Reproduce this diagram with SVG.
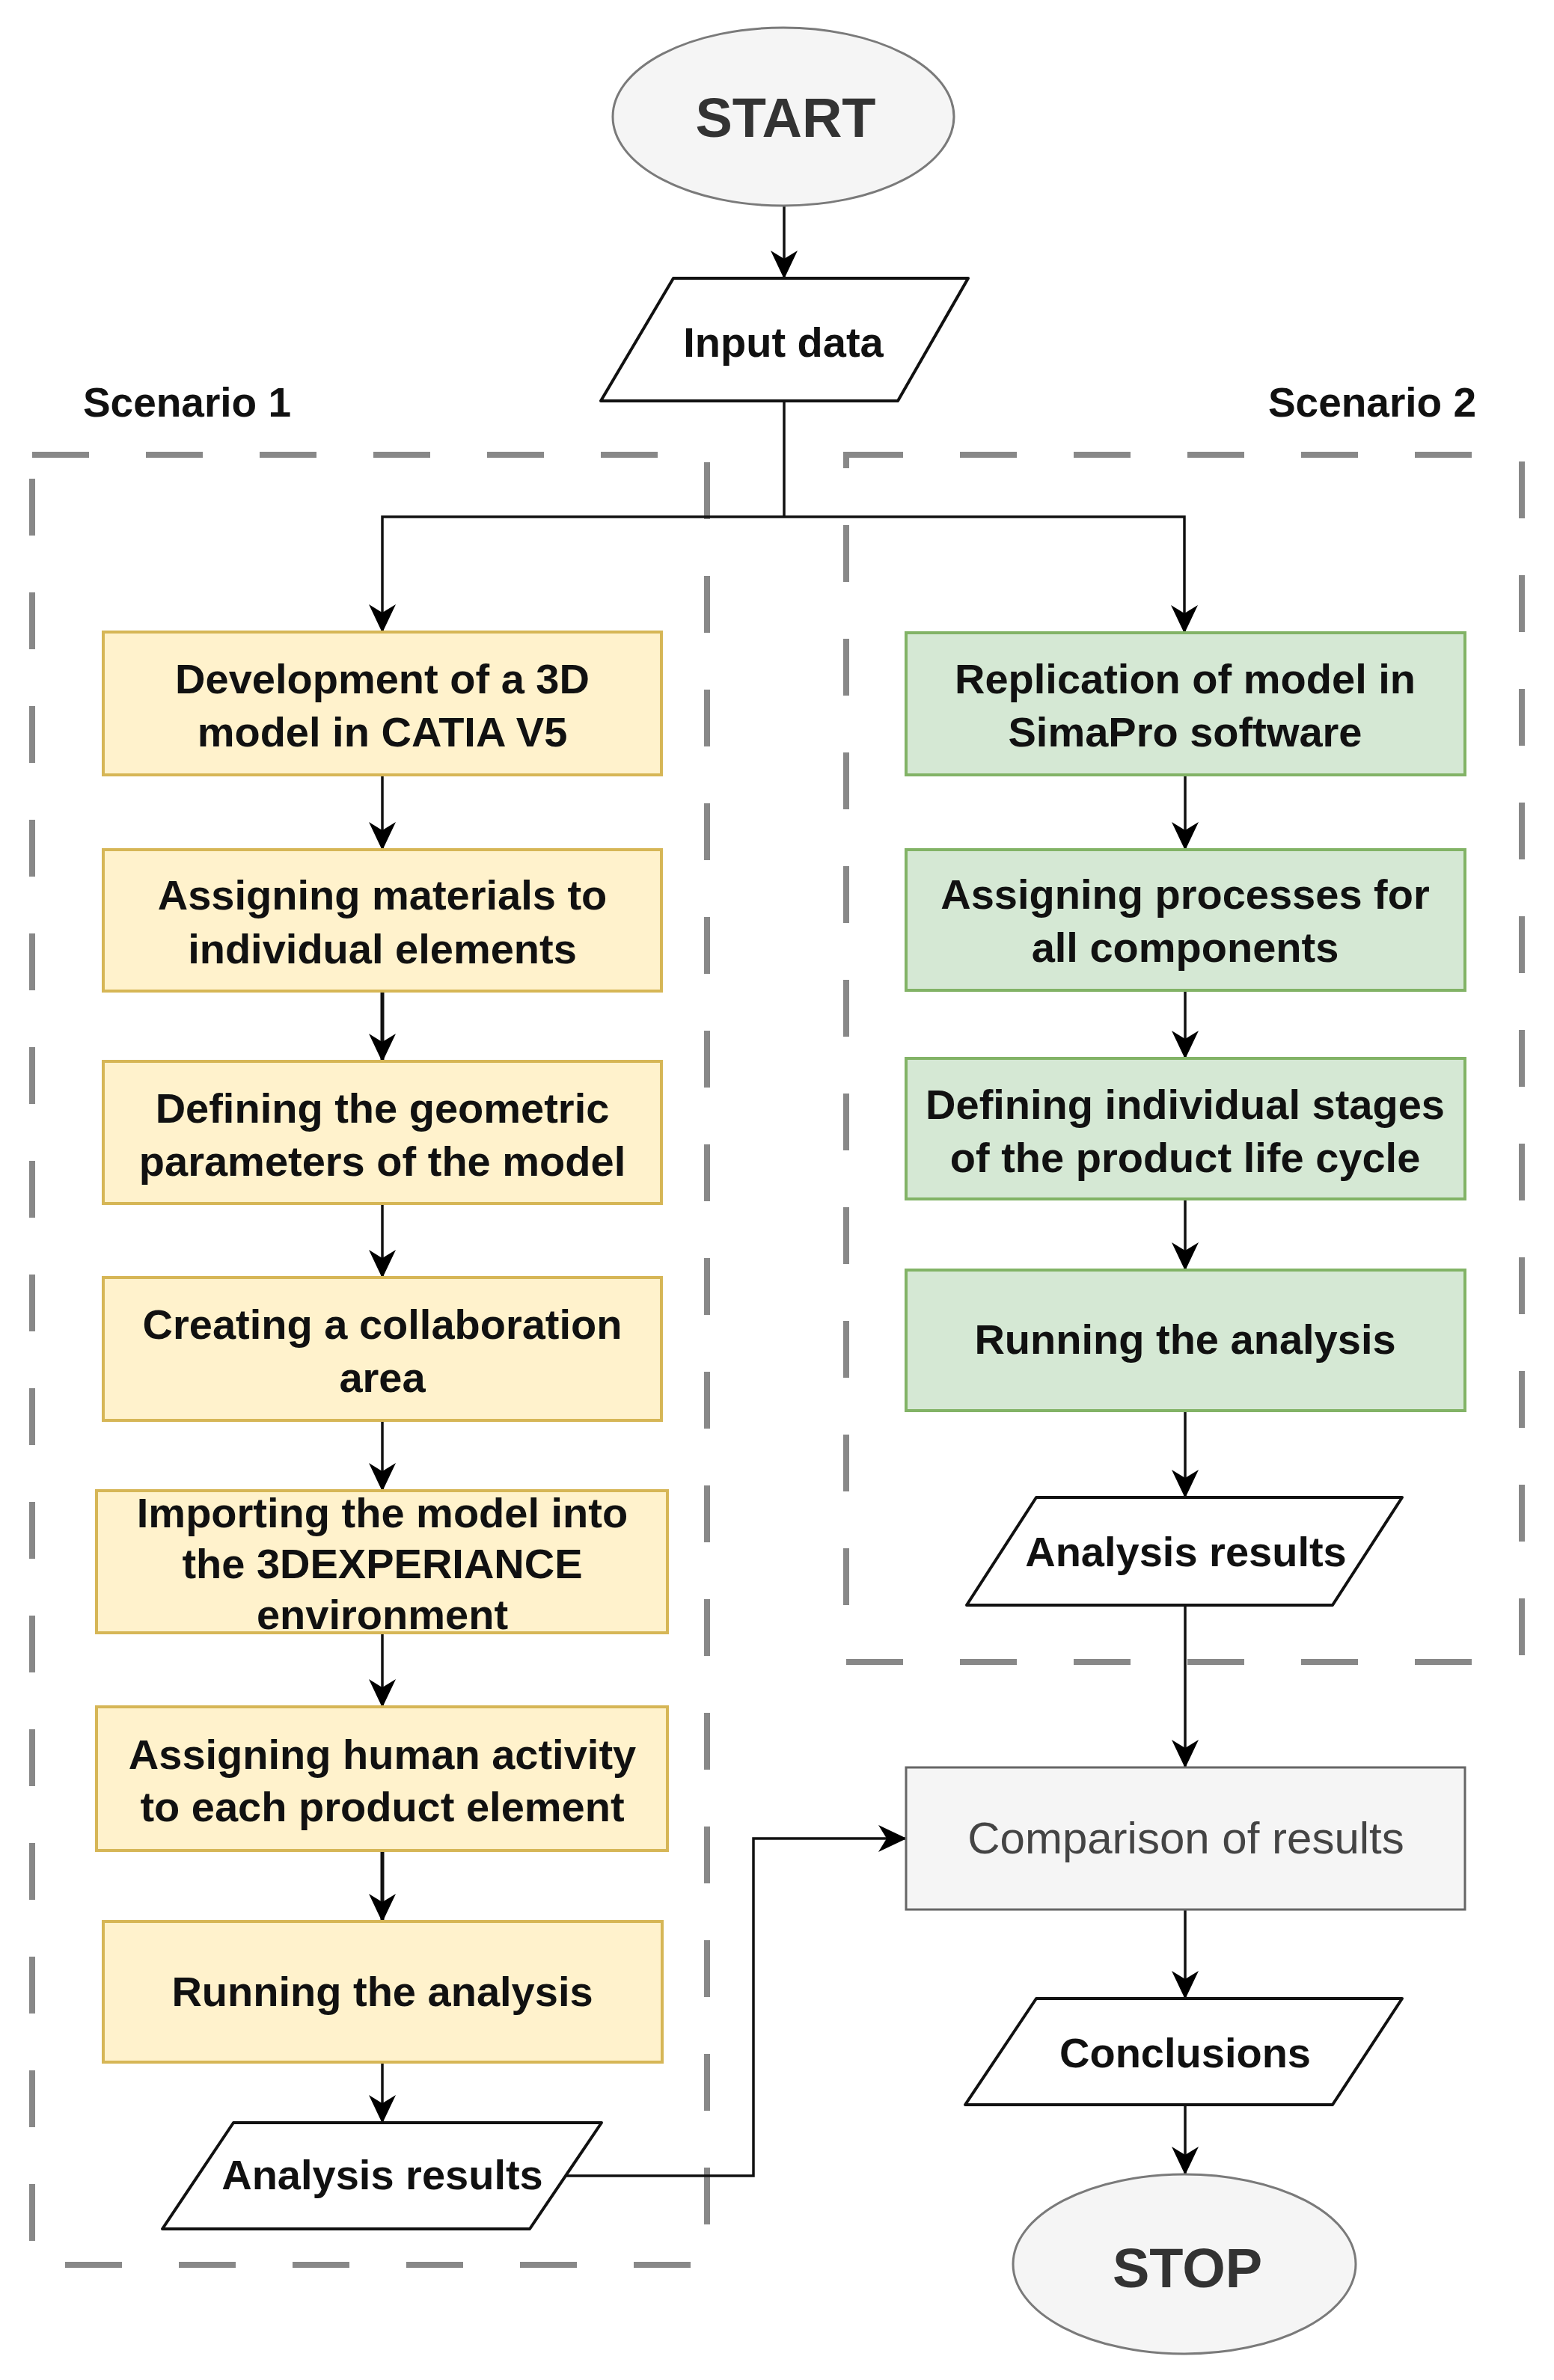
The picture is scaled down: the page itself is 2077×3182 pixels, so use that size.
<svg xmlns="http://www.w3.org/2000/svg" width="2077" height="3182" viewBox="0 0 2077 3182">
<defs>
<marker id="arr" markerUnits="userSpaceOnUse" markerWidth="38" markerHeight="36" viewBox="0 0 38 36" refX="37" refY="18" orient="auto">
<path d="M0,0 L38,18 L0,36 L11,18 Z" fill="#000"/>
</marker>
</defs>
<style>
text{font-family:"Liberation Sans",Arial,sans-serif;font-weight:bold;font-size:56px;fill:#111;text-anchor:middle}
.yel{fill:#fff2cc;stroke:#d6b656;stroke-width:4}
.grn{fill:#d5e8d4;stroke:#82b366;stroke-width:4}
.gry{fill:#f5f5f5;stroke:#666;stroke-width:3}
.term{fill:#f5f5f5;stroke:#7a7a7a;stroke-width:3}
.io{fill:#fff;stroke:#111;stroke-width:4;stroke-linejoin:round}
.zone{fill:none;stroke:#888;stroke-width:8;stroke-dasharray:76 76}
.lbl{font-size:55px}
.big{font-size:74px;fill:#333}
.cmp{font-weight:normal;font-size:60px;fill:#444}
.c{fill:none;stroke:#111;stroke-width:3.5;marker-end:url(#arr)}
.c2{fill:none;stroke:#111;stroke-width:3.5}
.thick{stroke-width:5}
</style>

<g id="zones">
<rect class="zone" x="43" y="608" width="902" height="2420"/>
<rect class="zone" x="1131" y="608" width="903" height="1614"/>
<text class="lbl" x="250" y="557">Scenario 1</text>
<text class="lbl" x="1834" y="557">Scenario 2</text>
</g>

<g id="connectors">
<path class="c" d="M1048,275 V372"/>
<path class="c2" d="M1048,536 V691"/>
<path class="c" d="M1048,691 H511 V845"/>
<path class="c" d="M1048,691 H1583 V846"/>
<path class="c" d="M511,1036 V1136"/>
<path class="c thick" d="M511,1325 V1419"/>
<path class="c" d="M511,1609 V1708"/>
<path class="c" d="M511,1899 V1993"/>
<path class="c" d="M511,2183 V2282"/>
<path class="c thick" d="M511,2474 V2569"/>
<path class="c" d="M511,2757 V2838"/>
<path class="c" d="M757,2909 H1007 V2458 H1211"/>
<path class="c" d="M1584,1036 V1136"/>
<path class="c" d="M1584,1324 V1415"/>
<path class="c" d="M1584,1603 V1698"/>
<path class="c" d="M1584,1886 V2002"/>
<path class="c" d="M1584,2146 V2363"/>
<path class="c" d="M1584,2553 V2672"/>
<path class="c" d="M1584,2814 V2907"/>
</g>

<g id="start">
<ellipse class="term" cx="1047" cy="156" rx="228" ry="119"/>
<text class="big" x="1050" y="183">START</text>
</g>

<g id="input">
<polygon class="io" points="900,372 1294,372 1200,536 803,536"/>
<text x="1047" y="477">Input data</text>
</g>

<g id="l1">
<rect class="yel" x="138" y="845" width="746" height="191"/>
<text x="511" y="927">Development of a 3D</text>
<text x="511" y="998">model in CATIA V5</text>
</g>
<g id="l2">
<rect class="yel" x="138" y="1136" width="746" height="189"/>
<text x="511" y="1216">Assigning materials to</text>
<text x="511" y="1288">individual elements</text>
</g>
<g id="l3">
<rect class="yel" x="138" y="1419" width="746" height="190"/>
<text x="511" y="1501">Defining the geometric</text>
<text x="511" y="1572">parameters of the model</text>
</g>
<g id="l4">
<rect class="yel" x="138" y="1708" width="746" height="191"/>
<text x="511" y="1790">Creating a collaboration</text>
<text x="511" y="1861">area</text>
</g>
<g id="l5">
<rect class="yel" x="129" y="1993" width="763" height="190"/>
<text x="511" y="2042">Importing the model into</text>
<text x="511" y="2110">the 3DEXPERIANCE</text>
<text x="511" y="2178">environment</text>
</g>
<g id="l6">
<rect class="yel" x="129" y="2282" width="763" height="192"/>
<text x="511" y="2365">Assigning human activity</text>
<text x="511" y="2435">to each product element</text>
</g>
<g id="l7">
<rect class="yel" x="138" y="2569" width="747" height="188"/>
<text x="511" y="2682">Running the analysis</text>
</g>
<g id="lres">
<polygon class="io" points="312,2838 804,2838 708,2980 217,2980"/>
<text x="511" y="2927">Analysis results</text>
</g>

<g id="r1">
<rect class="grn" x="1211" y="846" width="747" height="190"/>
<text x="1584" y="927">Replication of model in</text>
<text x="1584" y="998">SimaPro software</text>
</g>
<g id="r2">
<rect class="grn" x="1211" y="1136" width="747" height="188"/>
<text x="1584" y="1215">Assigning processes for</text>
<text x="1584" y="1286">all components</text>
</g>
<g id="r3">
<rect class="grn" x="1211" y="1415" width="747" height="188"/>
<text x="1584" y="1496">Defining individual stages</text>
<text x="1584" y="1567">of the product life cycle</text>
</g>
<g id="r4">
<rect class="grn" x="1211" y="1698" width="747" height="188"/>
<text x="1584" y="1810">Running the analysis</text>
</g>
<g id="rres">
<polygon class="io" points="1385,2002 1874,2002 1781,2146 1292,2146"/>
<text x="1585" y="2094">Analysis results</text>
</g>

<g id="compare">
<rect class="gry" x="1211" y="2363" width="747" height="190"/>
<text class="cmp" x="1585" y="2478">Comparison of results</text>
</g>
<g id="conclusions">
<polygon class="io" points="1385,2672 1874,2672 1781,2814 1290,2814"/>
<text x="1584" y="2764">Conclusions</text>
</g>
<g id="stop">
<ellipse class="term" cx="1583" cy="3027" rx="229" ry="120"/>
<text class="big" x="1587" y="3058">STOP</text>
</g>
</svg>
